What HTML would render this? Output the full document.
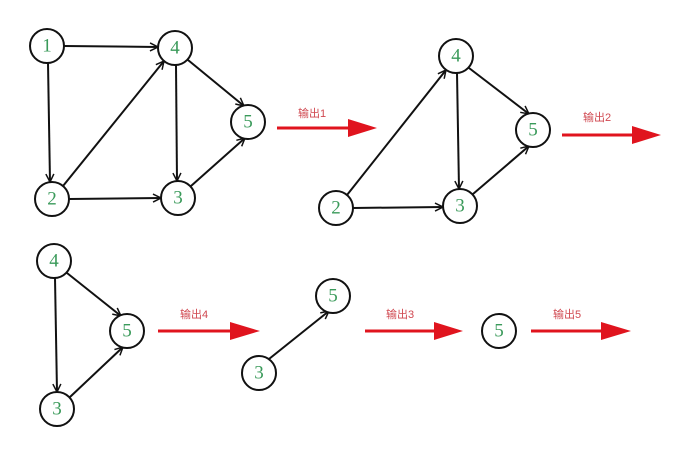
<!DOCTYPE html>
<html><head><meta charset="utf-8"><style>
html,body{margin:0;padding:0;background:#fff;}
svg{display:block;}
.n{fill:#fff;stroke:#111;stroke-width:2;}
.t{font-family:"Liberation Serif",serif;font-size:19px;fill:#3a9a5a;text-anchor:middle;dominant-baseline:central;}
.e{stroke:#111;stroke-width:2;fill:none;marker-end:url(#a);}
.r{stroke:#e0141e;stroke-width:3;}
.h{fill:#e0141e;}
.l{font-family:"Liberation Sans","Noto Sans CJK SC",sans-serif;font-size:11px;fill:#d04850;}
</style></head><body>
<svg width="689" height="458" viewBox="0 0 689 458">
<defs><marker id="a" markerWidth="10" markerHeight="10" refX="9" refY="5" orient="auto" markerUnits="userSpaceOnUse"><path d="M1,1 L9,5 L1,9" fill="none" stroke="#111" stroke-width="1.5"/></marker></defs>
<!-- graph 1 -->
<line class="e" x1="64" y1="46" x2="158" y2="47"/>
<line class="e" x1="48" y1="63" x2="50" y2="182"/>
<line class="e" x1="63" y1="186" x2="164" y2="61"/>
<line class="e" x1="69" y1="199" x2="161" y2="198"/>
<line class="e" x1="176" y1="65" x2="177" y2="181"/>
<line class="e" x1="188" y1="60" x2="244" y2="106"/>
<line class="e" x1="191" y1="186" x2="245" y2="138"/>
<circle class="n" cx="47" cy="46" r="17"/><text class="t" x="47" y="46">1</text>
<circle class="n" cx="175" cy="48" r="17"/><text class="t" x="175" y="48">4</text>
<circle class="n" cx="248" cy="122" r="17"/><text class="t" x="248" y="122">5</text>
<circle class="n" cx="52" cy="199" r="17"/><text class="t" x="52" y="199">2</text>
<circle class="n" cx="178" cy="198" r="17"/><text class="t" x="178" y="198">3</text>
<line class="r" x1="277" y1="128" x2="350" y2="128"/><polygon class="h" points="348,119 377,128 348,137"/>
<text class="l" x="298" y="117">输出1</text>
<!-- graph 2 -->
<line class="e" x1="347" y1="195" x2="446" y2="70"/>
<line class="e" x1="353" y1="208" x2="443" y2="207"/>
<line class="e" x1="457" y1="73" x2="459" y2="189"/>
<line class="e" x1="469" y1="68" x2="529" y2="114"/>
<line class="e" x1="473" y1="194" x2="529" y2="146"/>
<circle class="n" cx="456" cy="56" r="17"/><text class="t" x="456" y="56">4</text>
<circle class="n" cx="533" cy="130" r="17"/><text class="t" x="533" y="130">5</text>
<circle class="n" cx="336" cy="208" r="17"/><text class="t" x="336" y="208">2</text>
<circle class="n" cx="460" cy="206" r="17"/><text class="t" x="460" y="206">3</text>
<line class="r" x1="562" y1="135" x2="635" y2="135"/><polygon class="h" points="632,126 661,135 632,144"/>
<text class="l" x="583" y="121">输出2</text>
<!-- graph 3 -->
<line class="e" x1="55" y1="278" x2="57" y2="392"/>
<line class="e" x1="67" y1="273" x2="121" y2="316"/>
<line class="e" x1="70" y1="397" x2="123" y2="347"/>
<circle class="n" cx="54" cy="261" r="17"/><text class="t" x="54" y="261">4</text>
<circle class="n" cx="127" cy="331" r="17"/><text class="t" x="127" y="331">5</text>
<circle class="n" cx="57" cy="409" r="17"/><text class="t" x="57" y="409">3</text>
<line class="r" x1="158" y1="331" x2="233" y2="331"/><polygon class="h" points="230,322 260,331 230,340"/>
<text class="l" x="180" y="318">输出4</text>
<!-- graph 4 -->
<line class="e" x1="269" y1="359" x2="329" y2="311"/>
<circle class="n" cx="333" cy="296" r="17"/><text class="t" x="333" y="296">5</text>
<circle class="n" cx="259" cy="373" r="17"/><text class="t" x="259" y="373">3</text>
<line class="r" x1="365" y1="331" x2="437" y2="331"/><polygon class="h" points="434,322 463,331 434,340"/>
<text class="l" x="386" y="318">输出3</text>
<circle class="n" cx="499" cy="331" r="17"/><text class="t" x="499" y="331">5</text>
<line class="r" x1="531" y1="331" x2="604" y2="331"/><polygon class="h" points="601,322 631,331 601,340"/>
<text class="l" x="553" y="318">输出5</text>
</svg>
</body></html>
